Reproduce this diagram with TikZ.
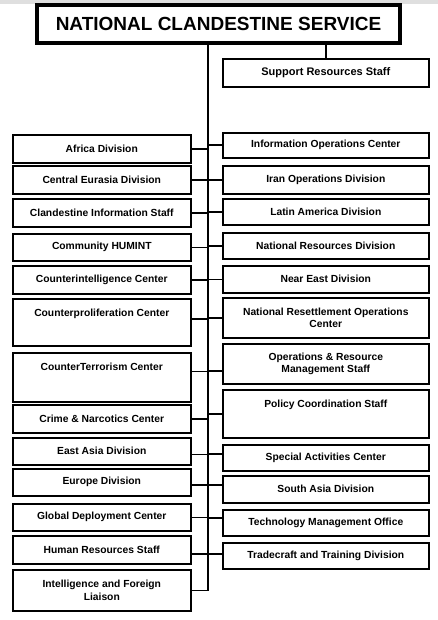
\documentclass[tikz,border=0pt]{standalone}
\usepackage{fontspec}
\setmainfont{Liberation Sans}
\usepackage{xcolor}
\usepackage{tikz}
\usetikzlibrary{positioning}

\tikzset{
    unit/.style={
        draw,
        line width=0.55mm,
        anchor=north west,
        inner sep=2pt,
        align=center,
        font=\fontsize{10.3}{12.5}\selectfont\bfseries
    },
    leftunit/.style={unit, minimum width=178pt},
    rightunit/.style={unit, minimum width=206pt},
    tallunit/.style={text height=7pt, text depth=#1, inner ysep=11pt},
    link/.style={line width=0.55mm}
}

\begin{document}
\begin{tikzpicture}[x=1pt, y=-1pt]
                \useasboundingbox (0,0) rectangle (438,620);
                \fill[gray!25] (0,0) rectangle (438,4);

                \node[
                    draw,
                    line width=1.1mm,
                    minimum width=363pt,
                    minimum height=38pt,
                    font=\fontsize{19}{22}\selectfont\bfseries
                    ] (ncs) at (218.5,24) {NATIONAL CLANDESTINE SERVICE};

                \node[rightunit, minimum height=28pt, font=\fontsize{11}{13}\selectfont\bfseries] (srs) at (222,58) {Support Resources Staff};

                % left column
                \node[leftunit, minimum height=28pt] (afr) at (12,134) {Africa Division};
                \node[leftunit, minimum height=28pt] (ceu) at (12,165) {Central Eurasia Division};
                \node[leftunit, minimum height=28pt] (cis) at (12,198) {Clandestine Information Staff};
                \node[leftunit, minimum height=27pt] (chu) at (12,233) {Community HUMINT};
                \node[leftunit, minimum height=28pt] (cic) at (12,265) {Counterintelligence Center};
                \node[leftunit, tallunit=18pt] (cpc) at (12,298) {Counterproliferation Center};
                \node[leftunit, tallunit=20pt] (ctc) at (12,352) {CounterTerrorism Center};
                \node[leftunit, minimum height=28pt] (cnc) at (12,404) {Crime \& Narcotics Center};
                \node[leftunit, minimum height=27pt] (ead) at (12,437) {East Asia Division};
                \node[leftunit, minimum height=27pt] (eud) at (12,468) {Europe Division};
                \node[leftunit, minimum height=27pt] (gdc) at (12,503) {Global Deployment Center};
                \node[leftunit, minimum height=28pt] (hrs) at (12,535) {Human Resources Staff};
                \node[leftunit, minimum height=41pt] (ifl) at (12,569) {Intelligence and Foreign\\Liaison};

                % right column
                \node[rightunit, minimum height=25pt] (ioc) at (222,132) {Information Operations Center};
                \node[rightunit, minimum height=28pt] (iod) at (222,165) {Iran Operations Division};
                \node[rightunit, minimum height=26pt] (lad) at (222,198) {Latin America Division};
                \node[rightunit, minimum height=26pt] (nrd) at (222,232) {National Resources Division};
                \node[rightunit, minimum height=27pt] (ned) at (222,265) {Near East Division};
                \node[rightunit, minimum height=40pt] (nro) at (222,297) {National Resettlement Operations\\Center};
                \node[rightunit, minimum height=40pt] (orm) at (222,343) {Operations \& Resource\\Management Staff};
                \node[rightunit, tallunit=19pt] (pcs) at (222,389) {Policy Coordination Staff};
                \node[rightunit, minimum height=26pt] (sac) at (222,444) {Special Activities Center};
                \node[rightunit, minimum height=27pt] (sad) at (222,475) {South Asia Division};
                \node[rightunit, minimum height=26pt] (tmo) at (222,509) {Technology Management Office};
                \node[rightunit, minimum height=26pt] (ttd) at (222,542) {Tradecraft and Training Division};

                % trunk and branches
                \coordinate (trunk) at (208,0);
                \draw[link] (ncs.south -| trunk) |- (ifl.east);
                \draw[link] (srs.north) -- (srs.north |- ncs.south);

                \draw[link] (afr.east) -- (afr.east -| trunk);
                \draw[link] (ceu.east) -- (ceu.east -| trunk);
                \draw[link] (cis.east) -- (cis.east -| trunk);
                \draw[link] (chu.east) -- (chu.east -| trunk);
                \draw[link] (cic.east) -- (cic.east -| trunk);
                \draw[link] ([yshift=3.5pt]cpc.east) -- ([yshift=3.5pt]cpc.east -| trunk);
                \draw[link] ([yshift=6pt]ctc.east) -- ([yshift=6pt]ctc.east -| trunk);
                \draw[link] (cnc.east) -- (cnc.east -| trunk);
                \draw[link] ([yshift=-3pt]ead.east) -- ([yshift=-3pt]ead.east -| trunk);
                \draw[link] ([yshift=-2.5pt]eud.east) -- ([yshift=-2.5pt]eud.east -| trunk);
                \draw[link] (gdc.east) -- (gdc.east -| trunk);
                \draw[link] ([yshift=-4pt]hrs.east) -- ([yshift=-4pt]hrs.east -| trunk);

                \draw[link] (ioc.west) -- (ioc.west -| trunk);
                \draw[link] (iod.west) -- (iod.west -| trunk);
                \draw[link] (lad.west) -- (lad.west -| trunk);
                \draw[link] (nrd.west) -- (nrd.west -| trunk);
                \draw[link] (ned.west) -- (ned.west -| trunk);
                \draw[link] (nro.west) -- (nro.west -| trunk);
                \draw[link] ([yshift=-7pt]orm.west) -- ([yshift=-7pt]orm.west -| trunk);
                \draw[link] (pcs.west) -- (pcs.west -| trunk);
                \draw[link] ([yshift=4pt]sac.west) -- ([yshift=4pt]sac.west -| trunk);
                \draw[link] ([yshift=4.5pt]sad.west) -- ([yshift=4.5pt]sad.west -| trunk);
                \draw[link] ([yshift=5pt]tmo.west) -- ([yshift=5pt]tmo.west -| trunk);
                \draw[link] ([yshift=2pt]ttd.west) -- ([yshift=2pt]ttd.west -| trunk);

            \end{tikzpicture}
\end{document}
